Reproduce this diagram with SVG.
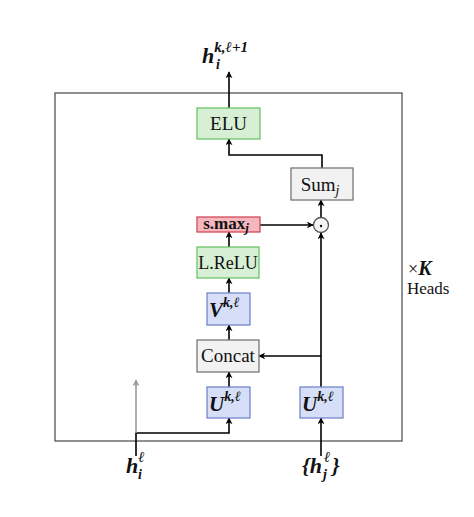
<svg xmlns="http://www.w3.org/2000/svg" width="474" height="517" viewBox="0 0 474 517">
<style>
.t{font-family:"Liberation Serif","Times New Roman",serif;fill:#111;}
.m{font-family:"Liberation Serif","Times New Roman",serif;font-weight:bold;font-style:italic;fill:#111;}
.green{fill:#d7efd5;stroke:#6cc46a;stroke-width:1.3;}
.blue{fill:#d6dff7;stroke:#7488cf;stroke-width:1.3;}
.gray{fill:#f2f2f2;stroke:#777;stroke-width:1.3;}
.red{fill:#f5b7bd;stroke:#cf4b5a;stroke-width:1.3;}
.c{fill:none;stroke:#000;stroke-width:1.6;}
</style>
<defs>
<marker id="ah" viewBox="0 0 10 10" refX="9" refY="5" markerWidth="7" markerHeight="7" orient="auto" markerUnits="userSpaceOnUse">
<path d="M0,0 L10,5 L0,10 L3,5 Z" fill="#000"/>
</marker>
<marker id="ahg" viewBox="0 0 10 10" refX="9" refY="5" markerWidth="7" markerHeight="7" orient="auto" markerUnits="userSpaceOnUse">
<path d="M0,0 L10,5 L0,10 L3,5 Z" fill="#999"/>
</marker>
</defs>
<rect width="474" height="517" fill="#fff"/>
<g id="frame">
<rect x="55" y="93" width="347" height="348" fill="none" stroke="#555" stroke-width="1.3"/>
<text class="t" x="408" y="275" font-size="18">×<tspan class="m" font-size="20">K</tspan></text>
<text class="t" x="407" y="294" font-size="17">Heads</text>
</g>
<g id="connectors">
<path class="c" d="M229,108 V72" marker-end="url(#ah)"/>
<path class="c" d="M322,168 V155 H229 V139" marker-end="url(#ah)"/>
<path class="c" d="M321,218 V200" marker-end="url(#ah)"/>
<path class="c" d="M260,225 H313" marker-end="url(#ah)"/>
<path class="c" d="M229,247 V232" marker-end="url(#ah)"/>
<path class="c" d="M229,293 V278" marker-end="url(#ah)"/>
<path class="c" d="M229,340 V325" marker-end="url(#ah)"/>
<path class="c" d="M229,387 V372" marker-end="url(#ah)"/>
<path class="c" d="M136,456 V433 H229 V418" marker-end="url(#ah)"/>
<path d="M136,433 V380" fill="none" stroke="#999" stroke-width="1.6" marker-end="url(#ahg)"/>
<path class="c" d="M321,456 V418" marker-end="url(#ah)"/>
<path class="c" d="M321,387 V233" marker-end="url(#ah)"/>
<path class="c" d="M321,356 H259" marker-end="url(#ah)"/>
</g>
<g id="elu">
<rect class="green" x="197" y="108" width="63" height="31"/>
<text class="t" x="228.5" y="130" font-size="19" text-anchor="middle">ELU</text>
</g>
<g id="sum">
<rect class="gray" x="291" y="168" width="62" height="32"/>
<text class="t" x="320" y="191" font-size="19" text-anchor="middle">Sum<tspan font-style="italic" font-size="14" dy="4">j</tspan></text>
</g>
<g id="odot">
<circle cx="321" cy="225" r="7.5" fill="#f4f4f4" stroke="#555" stroke-width="1.3"/>
<circle cx="321" cy="226" r="1.2" fill="#111"/>
</g>
<g id="smax">
<rect class="red" x="197" y="217" width="63" height="15"/>
<text class="t" x="226" y="229" font-size="17" font-weight="bold" text-anchor="middle">s.max<tspan font-style="italic" font-size="13" dy="3">j</tspan></text>
</g>
<g id="lrelu">
<rect class="green" x="197" y="247" width="62" height="31"/>
<text class="t" x="228" y="269" font-size="18" text-anchor="middle">L.ReLU</text>
</g>
<g id="v">
<rect class="blue" x="207" y="293" width="43" height="32"/>
<text class="m" x="209" y="317" font-size="21">V<tspan font-size="14" dy="-10">k,ℓ</tspan></text>
</g>
<g id="concat">
<rect class="gray" x="197" y="340" width="62" height="32"/>
<text class="t" x="228" y="362" font-size="19" text-anchor="middle">Concat</text>
</g>
<g id="u1">
<rect class="blue" x="207" y="387" width="43" height="31"/>
<text class="m" x="209" y="411" font-size="21">U<tspan font-size="14" dy="-10">k,ℓ</tspan></text>
</g>
<g id="u2">
<rect class="blue" x="300" y="387" width="43" height="31"/>
<text class="m" x="302" y="411" font-size="21">U<tspan font-size="14" dy="-10">k,ℓ</tspan></text>
</g>
<g id="labels">
<text class="m" x="202" y="63" font-size="22">h<tspan font-size="15" dy="-11">k,ℓ+1</tspan></text>
<text class="m" x="216" y="69" font-size="14">i</text>
<text class="m" x="126" y="473" font-size="22">h<tspan font-size="15" dy="-11">ℓ</tspan></text>
<text class="m" x="138" y="479" font-size="14">i</text>
<text class="m" x="302" y="473" font-size="22">{h</text>
<text class="m" x="324" y="462" font-size="15">ℓ</text>
<text class="m" x="323" y="479" font-size="14">j</text>
<text class="m" x="332" y="473" font-size="22">}</text>
</g>
</svg>
